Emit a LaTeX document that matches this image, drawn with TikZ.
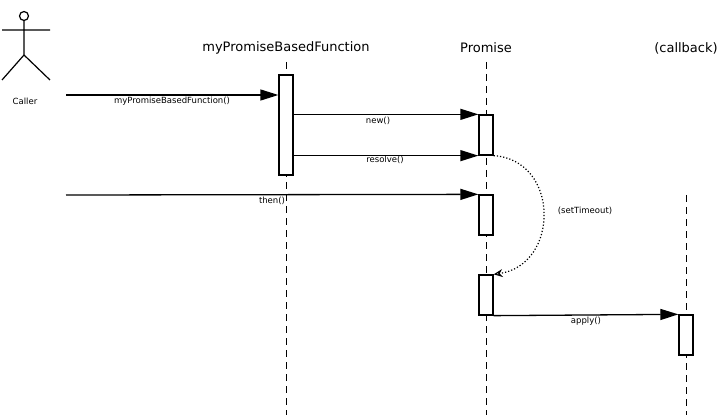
\documentclass[tikz,border=0pt]{standalone}
\usepackage{fontspec}
\setmainfont{DejaVu Sans}
\usetikzlibrary{arrows.meta}
\begin{document}
\begin{tikzpicture}[x=1pt,y=-1pt,
  life/.style={dash pattern=on 7pt off 5pt, line width=0.8pt},
  act/.style={draw, line width=1.3pt, fill=white},
  msg/.style={line width=1.3pt, -{Triangle[length=18pt,width=11pt]}},
  lbl/.style={font=\fontsize{8.5}{10}\selectfont, inner sep=0pt},
  ttl/.style={font=\fontsize{13}{15}\selectfont, inner sep=0pt}]
\useasboundingbox (0,0) rectangle (726,417);
% actor
\draw[line width=1.2pt] (24,16) circle (4.5);
\draw[line width=1.2pt] (24,20.5) -- (24,55) (2,30) -- (50,30) (2,80) -- (24,55) -- (50,80);
\node[lbl] (caller) at (25,101) {Caller};
% titles
\node[ttl] (t1) at (286,48) {myPromiseBasedFunction};
\node[ttl] (t2) at (486,48) {Promise};
\node[ttl] (t3) at (686,48) {(callback)};
% lifelines
\draw[life] (286,62) -- (286,415);
\draw[life] (486,62) -- (486,415);
\draw[life] (686,195) -- (686,415);
% activations
\node[act, minimum width=14pt, minimum height=100pt, inner sep=0pt] (a1) at (286,125) {};
\node[act, minimum width=14pt, minimum height=40pt, inner sep=0pt] (p1) at (486,135) {};
\node[act, minimum width=14pt, minimum height=40pt, inner sep=0pt] (p2) at (486,215) {};
\node[act, minimum width=14pt, minimum height=40pt, inner sep=0pt] (p3) at (486,295) {};
\node[act, minimum width=14pt, minimum height=40pt, inner sep=0pt] (c1) at (686,335) {};
\coordinate (s1) at (66,95);
\coordinate (s2) at (66,195);
% messages
\draw[msg] (s1) -- (a1.west |- s1);
\node[lbl] at (172,101) {myPromiseBasedFunction()};
\draw[msg] (a1.east |- p1.north) -- (p1.north west);
\node[lbl] at (378,121) {new()};
\draw[msg] (a1.east |- p1.south) -- (p1.south west);
\node[lbl] at (385,160) {resolve()};
\draw[msg] (s2) -- (p2.north west);
\node[lbl] at (272,201) {then()};
\draw[msg] (p3.south east) -- (c1.north west);
\node[lbl] at (586,321) {apply()};
% timeout
\draw[line width=1.2pt, dotted, -{Stealth[open,length=9pt,width=8pt]}] (p1.south east) .. controls (560,160) and (560,265) .. (p3.north east);
\node[lbl] at (585,211) {(setTimeout)};
\end{tikzpicture}
\end{document}
